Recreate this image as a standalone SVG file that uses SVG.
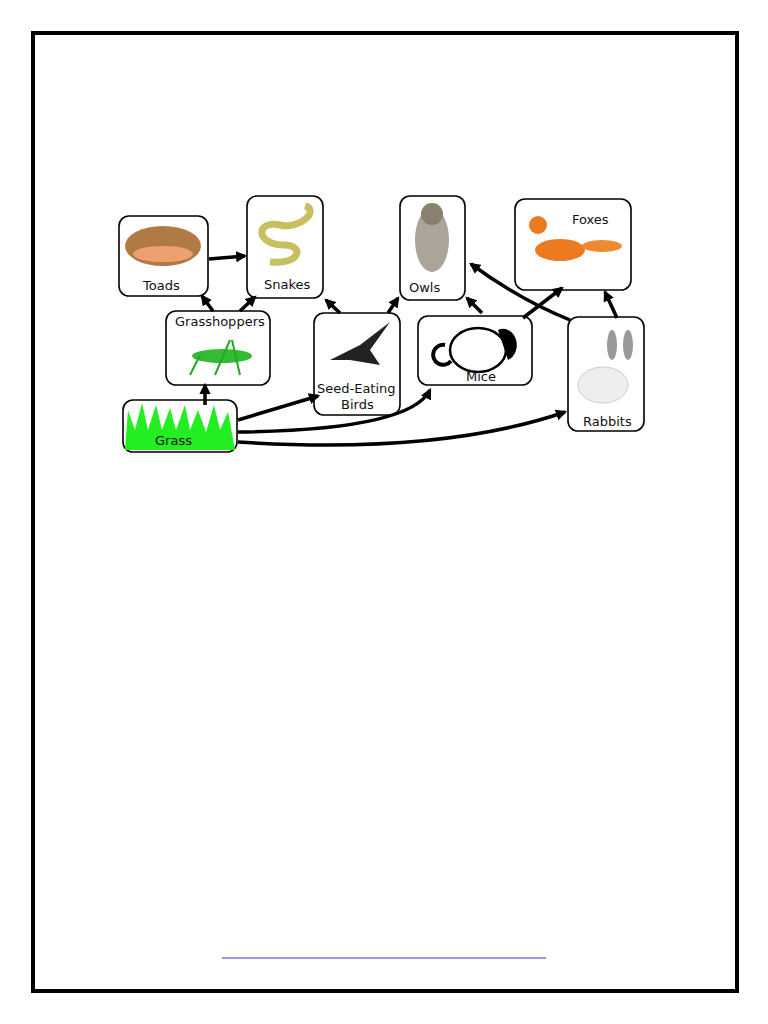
<svg xmlns="http://www.w3.org/2000/svg" width="768" height="1024" viewBox="0 0 768 1024">
<style>
.box{fill:#fff;stroke:#000;stroke-width:1.6}
.lbl{font-family:"DejaVu Sans",sans-serif;font-size:13px;fill:#111}
.c{fill:none;stroke:#000;stroke-width:3.5}
</style>
<defs><marker id="ah" viewBox="0 0 10 10" refX="8" refY="5" markerWidth="3.2" markerHeight="3.2" orient="auto"><path d="M0,0 L10,5 L0,10 z" fill="#000"/></marker></defs>
<rect x="0" y="0" width="768" height="1024" fill="#fff"/>
<rect x="33" y="33" width="704" height="958" fill="none" stroke="#000" stroke-width="4"/>
<line x1="222" y1="958" x2="546" y2="958" stroke="#3333cc" stroke-width="1.2"/>
<g id="toads"><rect class="box" x="119" y="216" width="89" height="80" rx="10"/>
<ellipse cx="163" cy="246" rx="38" ry="20" fill="#b07a45"/><ellipse cx="163" cy="254" rx="30" ry="8" fill="#f0a070"/>
<text class="lbl" x="143" y="290">Toads</text></g>
<g id="snakes"><rect class="box" x="247" y="196" width="76" height="102" rx="10"/>
<path d="M305,206 C320,210 300,230 280,225 C255,220 255,245 285,245 C305,246 300,265 270,262" fill="none" stroke="#c8c060" stroke-width="7"/>
<text class="lbl" x="264" y="289">Snakes</text></g>
<g id="owls"><rect class="box" x="400" y="196" width="65" height="104" rx="10"/>
<ellipse cx="432" cy="240" rx="17" ry="32" fill="#aaa49a"/><circle cx="432" cy="214" r="11" fill="#8a8070"/>
<text class="lbl" x="409" y="292">Owls</text></g>
<g id="foxes"><rect class="box" x="515" y="199" width="116" height="91" rx="10"/>
<ellipse cx="560" cy="250" rx="25" ry="11" fill="#ee7a20"/><circle cx="538" cy="225" r="9" fill="#ee7a20"/><ellipse cx="602" cy="246" rx="20" ry="6" fill="#f08a30"/>
<text class="lbl" x="572" y="224">Foxes</text></g>
<g id="grasshoppers"><rect class="box" x="166" y="311" width="104" height="74" rx="10"/>
<ellipse cx="222" cy="356" rx="30" ry="7" fill="#33bb33"/><path d="M190,375 L200,355 M215,375 L230,340 M240,375 L232,340" stroke="#22aa22" stroke-width="2"/>
<text class="lbl" x="175" y="326">Grasshoppers</text></g>
<g id="birds"><rect class="box" x="314" y="313" width="86" height="102" rx="10"/>
<path d="M330,360 L360,345 L390,322 L370,350 L380,365 L350,360 Z" fill="#222"/>
<text class="lbl" x="317" y="393">Seed-Eating</text><text class="lbl" x="341" y="409">Birds</text></g>
<g id="mice"><rect class="box" x="418" y="316" width="114" height="69" rx="10"/>
<ellipse cx="478" cy="350" rx="28" ry="22" fill="#fff" stroke="#000" stroke-width="2.5"/><path d="M498,330 a12,14 0 0 1 10,30" fill="#000"/><path d="M445,345 a10,10 0 1 0 6,16" fill="none" stroke="#000" stroke-width="4"/>
<text class="lbl" x="466" y="381">Mice</text></g>
<g id="rabbits"><rect class="box" x="568" y="317" width="76" height="114" rx="10"/>
<ellipse cx="603" cy="385" rx="25" ry="18" fill="#eee" stroke="#ccc"/><ellipse cx="612" cy="345" rx="5" ry="15" fill="#999"/><ellipse cx="628" cy="345" rx="5" ry="15" fill="#999"/>
<text class="lbl" x="583" y="426">Rabbits</text></g>
<g id="grass"><rect class="box" x="123" y="400" width="114" height="52" rx="10"/>
<path d="M125,450 L128,410 L135,430 L142,403 L148,430 L156,405 L162,430 L170,408 L176,430 L185,405 L190,430 L198,410 L206,432 L214,405 L220,430 L228,412 L235,450 Z" fill="#22ee22"/>
<text class="lbl" x="155" y="445">Grass</text></g>
<g id="connectors">
<path class="c" marker-end="url(#ah)" d="M209,259 L245,256"/>
<path class="c" marker-end="url(#ah)" d="M213,311 L202,296"/>
<path class="c" marker-end="url(#ah)" d="M240,311 L255,297"/>
<path class="c" marker-end="url(#ah)" d="M205,405 L205,385"/>
<path class="c" marker-end="url(#ah)" d="M340,313 L326,300"/>
<path class="c" marker-end="url(#ah)" d="M388,313 L398,298"/>
<path class="c" marker-end="url(#ah)" d="M482,313 L467,298"/>
<path class="c" marker-end="url(#ah)" d="M570,320 Q520,300 471,264"/>
<path class="c" marker-end="url(#ah)" d="M523,318 L562,288"/>
<path class="c" marker-end="url(#ah)" d="M617,318 L605,292"/>
<path class="c" marker-end="url(#ah)" d="M238,420 L318,396"/>
<path class="c" marker-end="url(#ah)" d="M238,432 Q410,430 430,390"/>
<path class="c" marker-end="url(#ah)" d="M238,442 Q440,455 565,412"/>
</g>
</svg>
